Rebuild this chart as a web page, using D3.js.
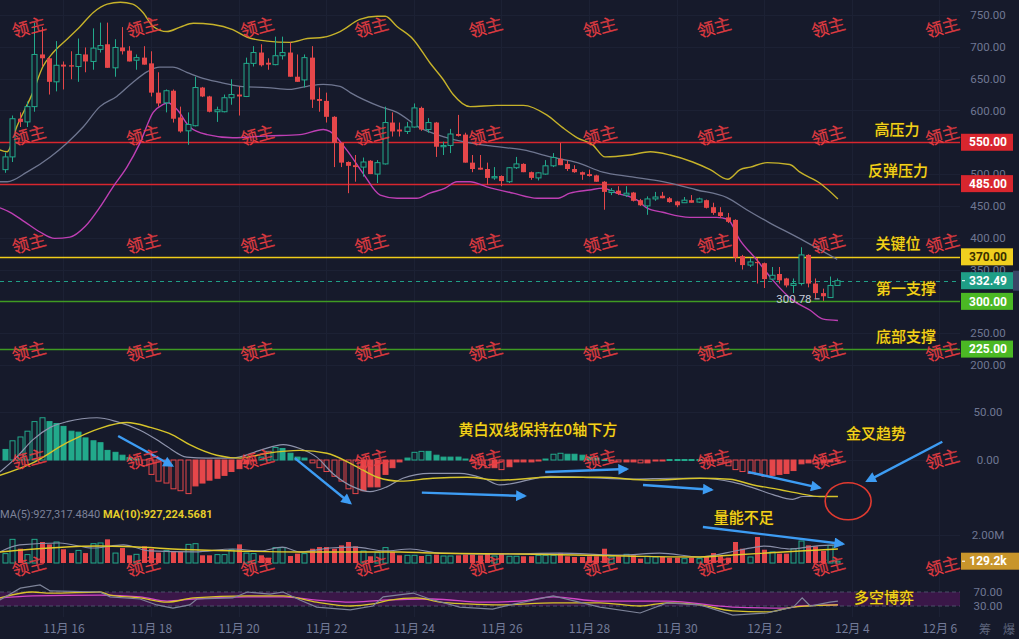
<!DOCTYPE html>
<html><head><meta charset="utf-8">
<script src="https://cdn.jsdelivr.net/npm/d3@7/dist/d3.min.js"></script>
<style>
html,body{margin:0;padding:0;background:#161a2b;overflow:hidden}
svg{display:block}
</style></head><body>
<svg id="chart" width="1019" height="639"></svg>
<script>
// ---------------- DATA ----------------
const opens  = [507,527,587,582,606,688,682,645,672,671,669,688,677,696,704,667,699,694,679,683,674,628,612,631,589,568,576,636,622,598,598,620,625,622,674,691,675,672,686,691,653,648,683,618,615,590,549,519,514,511,521,500,516,581,570,567,574,604,570,581,543,545,563,562,518,510,508,494,497,488,510,516,503,494,500,513,524,516,508,503,500,498,488,471,474,467,471,459,450,461,466,462,457,455,459,456,459,448,440,432,428,371,357,362,360,335,343,336,325,328,373,328,313,306,325];
const highs  = [534,592,597,614,738,731,683,709,677,693,713,699,729,738,738,712,731,701,688,701,693,660,633,633,606,597,653,637,623,606,625,649,638,683,701,704,682,716,716,707,688,688,701,636,628,591,550,520,530,526,522,522,606,597,581,582,611,606,588,582,551,571,593,565,530,530,518,511,498,511,527,517,504,503,522,533,549,521,514,504,507,499,489,478,481,481,472,461,465,472,472,464,458,464,467,463,460,455,448,439,429,373,368,368,361,354,354,337,336,385,374,336,320,339,336];
const lows   = [502,519,574,574,598,669,625,630,633,649,645,660,664,691,667,653,688,677,664,672,622,606,597,581,565,546,575,621,597,582,597,609,592,621,669,669,664,671,680,653,645,636,604,598,581,511,511,470,488,496,500,486,515,559,559,563,573,568,565,527,530,533,559,518,503,507,483,491,481,486,508,503,491,490,499,511,514,505,502,491,496,488,444,467,467,464,457,450,436,458,462,455,448,455,455,455,446,436,431,423,362,350,354,328,321,333,328,322,313,325,322,305,300.78,306,325];
const closes = [527,587,582,606,688,682,645,671,669,669,688,677,698,702,667,699,693,677,683,672,628,611,631,587,567,578,636,622,598,601,620,625,622,674,691,671,672,686,691,653,645,683,617,615,590,549,518,513,511,519,500,518,581,567,567,574,604,570,581,543,545,563,560,518,508,507,494,496,489,510,516,503,494,502,513,526,514,508,503,499,497,488,472,474,469,470,458,451,461,464,462,456,451,459,455,461,447,439,434,425,369,357,362,360,335,341,333,325,328,373,328,313,308,325,332.49];
// volume in millions
const volumes = [0.67,1.69,1.02,0.6,1.69,1.5,1.33,1.5,0.98,0.71, 0.9,0.71,1.38,1.43,1.69,0.71,1.07,0.55,0.62,1.19, 1.02,0.74,0.9,0.86,0.79,1.33,1.38,0.55,0.55,0.6, 0.6,0.95,1.33,0.71,0.67,0.55,0.38,1.1,1.1,0.5, 0.67,0.67,1.02,1.14,1.14,1.02,1.26,1.5,1.19,0.86, 0.48,0.74,1.1,0.79,0.55,0.55,0.55,0.5,0.55,0.6, 0.5,0.5,0.55,0.6,0.6,0.55,0.67,0.5,0.67,0.48, 0.48,0.48,0.48,0.55,0.55,0.55,0.71,0.48,0.43,0.43, 0.48,0.48,1.02,0.43,0.48,0.62,0.55,0.31,0.48,0.43, 0.43,0.38,0.38,0.31,0.38,0.31,0.43,0.71,0.48,0.38, 1.5,1.02,0.43,1.86,0.95,0.79,0.67,0.67,1.02,1.57, 1.26,1.19,0.86,1.26,0.1292];
const macdHist = [11,20,24,30,40,44,40,38,35,30, 29,23,20,18,10,8,5,2.5,1,-6, -15,-22,-24,-30,-32,-35,-27,-24,-21,-19, -16,-12,-9,-4,-1,3,9,13,12,7, 3,2,-3,-8,-12,-17,-22,-30,-35,-32, -28,-28,-15,-8,-2,2,8,9,9,5, 3,3,3,1,-1,-5,-8,-8,-10,-7, -2,-2,-2,-1,1,6,7,6,6,5, 3,2,0.5,-1,-2,-2,-2,-3,-3,-1, -1,0.5,0.5,0.5,0.5,0.5,-0.5,-1,-3,-6, -10,-12,-14,-15,-17,-16,-15,-14,-11,-4, -3,-4,-3,-2,-1];
// [candle index, value] samples
const bollUpper = [[-0.7,538],[0.3,535],[1.6,574],[3.8,628],[5.2,669],[6.6,691],[8.5,712],[10.3,732],[12.1,754],[14,767],[15.8,770],[17.5,767],[18.9,754],[20.3,732],[22.2,724],[24,731],[25.8,737],[28.5,735],[31.2,727],[33.2,715],[35.9,709],[39,707],[41.4,713],[43.6,715],[45.9,724],[48.6,743],[51,748],[52.1,748],[53.7,732],[55.9,712],[58.2,675],[60,649],[61.4,625],[63.7,606],[67.4,608],[71,608],[74.2,593],[76.4,573],[78.4,557],[80.5,546],[82.2,527],[85.6,530],[88.4,535],[91.1,530],[94.2,519],[96.6,507],[99,492],[100.7,507],[102.1,511],[104.4,518],[107.5,515],[108.9,503],[111.6,486],[114.1,461]];
const bollMid = [[-0.7,488],[0.3,488],[3,503],[6.2,527],[8.5,549],[10.7,574],[13,606],[15.3,622],[17.5,644],[19.5,661],[21.2,668],[23,668],[24.9,660],[26.7,652],[29.5,644],[32.2,638],[35.9,636],[39,633],[41.4,638],[43.6,641],[45.9,638],[47.3,628],[51.4,606],[53.7,597],[56.8,573],[60,559],[63.7,549],[67.4,543],[71,538],[74.7,527],[78.4,518],[81.9,503],[85.6,496],[90.1,488],[94.8,475],[98.9,463],[101.6,444],[104.8,423],[108.5,401],[111.2,384],[114,366]];
const bollLower = [[-0.7,447],[0.7,440],[2.7,425],[4.8,409],[6.8,399],[8.9,401],[11,418],[13,448],[14.8,480],[16.7,511],[18.5,549],[20.3,597],[21.6,609],[22.3,612],[23.6,601],[25.3,574],[27.7,562],[31.2,557],[35.9,560],[40.4,562],[43.6,570],[44.5,567],[46.8,538],[49,502],[51.4,467],[53.7,462],[56.4,462],[58.2,470],[60.3,478],[61.9,488],[63.7,488],[66,480],[69.6,470],[72.9,462],[75.6,462],[77.4,470],[80.1,475],[81.9,478],[83.8,470],[86.6,459],[87.9,447],[90.1,440],[93.8,432],[97.5,432],[99,429],[100.7,396],[103,365],[105.2,333],[107.9,302],[110.3,286],[112.1,272],[114.1,270]];
const macdDif = [[-0.7,-12.5],[1.6,3],[3.8,21],[6.2,34],[8.5,40],[12.6,44],[15.3,40],[18.5,31],[20.8,21],[22.2,14],[24.9,3],[27.7,2],[31.2,2],[34.9,10],[38.1,16],[40.4,12],[42.7,3],[44.9,-14],[47.7,-28],[50,-33],[52.3,-28],[54.5,-19],[58.2,-14],[62.3,-14],[65.5,-19],[67.8,-26],[74.7,-17],[79.2,-18],[86,-20],[91.5,-19],[95.2,-19],[99.7,-23],[102.5,-29],[105.2,-36],[107.9,-41],[109.3,-38],[111.6,-38],[114,-38]];
const macdDea = [[-0.7,-16],[3.8,-3],[8.5,18],[13,33],[16.7,39],[19.9,34],[23,26],[25.3,16],[29,5],[32.2,2],[35.9,7],[40.4,10],[44.1,7],[47.7,-5],[51,-18],[54.1,-22],[58.6,-19],[63.3,-18],[67.8,-21],[74.7,-18],[81.5,-18],[88.4,-21],[95.2,-19],[99.3,-20],[102.5,-26],[106.2,-31],[108.9,-35],[111.6,-38],[114.1,-38]];
const volMa5 = [[-0.7,0.79],[2,1.29],[7.5,1.43],[12,1.07],[16.2,1.29],[19.9,0.86],[26,0.79],[31.2,1.0],[35,0.86],[38,1.14],[40.4,0.79],[44.5,1.07],[48,1.14],[52,0.86],[55.5,1.0],[59.6,0.71],[67.8,0.64],[76,0.71],[84.2,0.57],[89.7,0.71],[95.2,0.43],[100.7,0.93],[104.1,1.21],[107.5,1.0],[111,1.21],[114.1,1.29]];
const volMa10 = [[-0.7,0.79],[13,1.21],[26.7,0.93],[40.4,0.79],[54.1,0.79],[58.6,0.71],[70.5,0.64],[85,0.5],[95.2,0.43],[99.7,0.57],[108.9,0.86],[114.1,1.0]];
const rsiFast = [[-0.7,47],[2.1,81],[4.8,90],[6.2,73],[13,70],[14.4,56],[18.5,50],[20.8,33],[23,24],[25.3,33],[26.3,50],[31.2,53],[33.2,70],[36.3,64],[38.1,70],[40.4,47],[42.7,27],[47.3,19],[50.4,30],[51.8,56],[55.9,67],[58.2,50],[62.3,27],[66.8,21],[69.2,33],[75.1,59],[81.5,27],[87,10],[90.7,39],[95.2,33],[99.7,4],[104.4,10],[108,27],[109.2,53],[110.3,30],[113,41],[114.1,44]];
const rsiMid = [[-0.7,53],[3.8,70],[6.2,67],[13,70],[14.4,61],[18.5,53],[22.2,41],[25.8,53],[33.2,59],[38.1,59],[42.7,41],[47.3,30],[50.4,36],[52.7,47],[56.4,53],[59.6,41],[63.3,36],[67.8,33],[75.1,39],[81.5,39],[87,30],[90.7,39],[95.2,33],[99.7,16],[104.4,13],[108,27],[109.9,30],[114.1,33]];
const rsiSlow = [[-0.7,53],[3.8,59],[13,61],[18.5,56],[22.2,44],[25.8,50],[33.2,56],[38.1,56],[42.7,47],[47.3,41],[51.8,47],[58.6,50],[65.5,41],[70.5,44],[75.1,56],[81.5,44],[90.7,44],[99.7,27],[107,24],[108.9,30],[114.1,33]];

const priceTicks = [750,700,650,600,550,500,450,400,350,300,250,200];
const macdTicks = [50,0];
const volTicks = [2];
const rsiTicks = [70,30];
const dateTicks = ["2024-11-16","2024-11-18","2024-11-20","2024-11-22","2024-11-24","2024-11-26","2024-11-28","2024-11-30","2024-12-02","2024-12-04","2024-12-06"];
const levels = [550,485,370,300,225];
const levelNotes = ["高压力","反弹压力","关键位","第一支撑","底部支撑"];
const currentPrice = 332.49;
const currentVolumeLabel = "129.2k";
const lowIndex = 112, lowPrice = 300.78;
const volMaLabels = ["MA(5):927,317.4840","MA(10):927,224.5681"];
const watermark = "领主";
const macdNote = {text:"黄白双线保持在0轴下方", i:73, v:33};
const crossNote = {text:"金叉趋势", i:119.3, v:29};
const volNote = {text:"量能不足", i:101.2, v:3.3};
const rsiNote = {text:"多空博弈", i:120.4, v:56};
// arrows in data coordinates [i1,v1,i2,v2]
const macdArrows = [[15.5,25,22.9,-6],[39.7,2,47.3,-45],[57.1,-34,71.2,-37.5],[74,-12.5,85.2,-9.4],[87.4,-26,96.8,-31],[101.8,-12.5,111.6,-29],[128.4,19,118.1,-22]];
const volArrows = [[95.6,2.57,114.8,1.36]];
const crossCircle = {i:115.5, v:-43};

// ---------------- SCALES ----------------
const svg = d3.select("#chart");
const PR = 960;
const x = d3.scaleLinear().domain([0,114]).range([5, 837.2]);
const t0 = new Date(2024,10,14,16);
const tx = d3.scaleTime().domain([t0, d3.timeHour.offset(t0, 4*114)]).range(x.range());
const yP = d3.scaleLinear().domain([200,750]).range([365,15]);
const yM = d3.scaleLinear().domain([0,50]).range([460,412]);
const yV = d3.scaleLinear().domain([0,2]).range([563,535]);
const yR = d3.scaleLinear().domain([30,70]).range([606,592]);
const parse = d3.timeParse("%Y-%m-%d");

const C = {bg:"#161a2b", grid:"#1c2134", up:"#22a98b", down:"#e5474a", axis:"#6f7793",
  red:"#d8262e", yellow:"#f0cc1a", green:"#3f9b22", tagGreen:"#4bb824", teal:"#1f9e86",
  bU:"#c6b22a", bM:"#6f7690", bL:"#be3fb4", note:"#f3d21c", blue:"#3d9cf3"};
const numFont = "Roboto, 'Liberation Sans', sans-serif";
const cjk = "'Noto Sans CJK SC', 'Noto Sans', sans-serif";

svg.append("rect").attr("width",1019).attr("height",639).attr("fill",C.bg);

// grid
const grid = svg.append("g").attr("stroke",C.grid).attr("stroke-width",1);
grid.selectAll("line.h").data(priceTicks).join("line").attr("class","h")
  .attr("x1",0).attr("x2",PR).attr("y1",d=>Math.round(yP(d))+0.5).attr("y2",d=>Math.round(yP(d))+0.5);
grid.selectAll("line.v").data(dateTicks).join("line").attr("class","v")
  .attr("x1",d=>Math.round(tx(parse(d)))+0.5).attr("x2",d=>Math.round(tx(parse(d)))+0.5).attr("y1",0).attr("y2",617);
grid.selectAll("line.m").data(macdTicks).join("line").attr("class","m")
  .attr("x1",0).attr("x2",PR).attr("y1",d=>Math.round(yM(d))+0.5).attr("y2",d=>Math.round(yM(d))+0.5);
grid.selectAll("line.vv").data(volTicks).join("line").attr("class","vv")
  .attr("x1",0).attr("x2",PR).attr("y1",d=>Math.round(yV(d))+0.5).attr("y2",d=>Math.round(yV(d))+0.5);

// RSI band
svg.append("rect").attr("x",0).attr("width",PR).attr("y",yR(70)).attr("height",yR(30)-yR(70)).attr("fill","#3a1748");
svg.selectAll("line.rsi").data(rsiTicks).join("line").attr("class","rsi")
  .attr("x1",0).attr("x2",PR).attr("y1",d=>yR(d)).attr("y2",d=>yR(d))
  .attr("stroke","#4a4f68").attr("stroke-dasharray","4,3");

// levels
const levelColor = [C.red,C.red,C.yellow,C.green,C.green];
svg.selectAll("line.lvl").data(levels).join("line").attr("class","lvl")
  .attr("x1",0).attr("x2",PR).attr("y1",d=>Math.round(yP(d))+0.5).attr("y2",d=>Math.round(yP(d))+0.5)
  .attr("stroke",(d,i)=>levelColor[i]).attr("stroke-width",1.3);
svg.append("line").attr("x1",0).attr("x2",PR).attr("y1",Math.round(yP(currentPrice))+0.5).attr("y2",Math.round(yP(currentPrice))+0.5)
  .attr("stroke",C.teal).attr("stroke-dasharray","4,4").attr("stroke-width",1);

// line helper
function drawLine(data, ys, color, w, curve){
  svg.append("path").datum(data)
    .attr("d", d3.line().x(d=>x(d[0])).y(d=>ys(d[1])).curve(curve||d3.curveMonotoneX))
    .attr("fill","none").attr("stroke",color).attr("stroke-width",w||1.3);
}
drawLine(bollMid, yP, C.bM, 1.3);
drawLine(bollUpper, yP, C.bU, 1.4);
drawLine(bollLower, yP, C.bL, 1.4);

// candles
const idx = d3.range(opens.length);
const cg = svg.append("g");
cg.selectAll("line.wick").data(idx).join("line")
  .attr("x1",i=>Math.round(x(i))+0.5).attr("x2",i=>Math.round(x(i))+0.5)
  .attr("y1",i=>yP(highs[i])).attr("y2",i=>yP(lows[i]))
  .attr("stroke",i=>closes[i]>=opens[i]?C.up:C.down).attr("stroke-width",1);
cg.selectAll("rect.body").data(idx).join("rect")
  .attr("x",i=>Math.round(x(i))-2)
  .attr("width",5)
  .attr("y",i=>yP(Math.max(opens[i],closes[i])))
  .attr("height",i=>Math.max(1,Math.abs(yP(opens[i])-yP(closes[i]))))
  .attr("fill",i=>closes[i]>=opens[i]?C.bg:C.down)
  .attr("stroke",i=>closes[i]>=opens[i]?C.up:"none").attr("stroke-width",1);

// low label
svg.append("text").attr("x",x(lowIndex)-11).attr("y",yP(lowPrice)+2).attr("text-anchor","end")
  .attr("fill","#c6cad8").attr("font-family",numFont).attr("font-size",11.5).text(lowPrice.toFixed(2));
svg.append("line").attr("x1",x(lowIndex)-8).attr("x2",x(lowIndex)-3).attr("y1",yP(lowPrice)-2).attr("y2",yP(lowPrice)-2)
  .attr("stroke","#c6cad8").attr("stroke-width",1);

// MACD histogram
const mg = svg.append("g");
mg.selectAll("rect").data(idx).join("rect")
  .attr("x",i=>Math.round(x(i))-2).attr("width",5)
  .attr("y",i=>Math.min(yM(0),yM(macdHist[i])))
  .attr("height",i=>Math.max(1,Math.abs(yM(macdHist[i])-yM(0))))
  .attr("fill",i=>{const grow=i>0&&Math.abs(macdHist[i])>Math.abs(macdHist[i-1]);return grow?"none":(macdHist[i]>=0?C.up:C.down);})
  .attr("stroke",i=>macdHist[i]>=0?C.up:C.down).attr("stroke-width",1);
drawLine(macdDif, yM, "#8e93ab", 1.2);
drawLine(macdDea, yM, "#d6c42a", 1.4);

// volume
const vg = svg.append("g");
vg.selectAll("rect").data(idx).join("rect")
  .attr("x",i=>Math.round(x(i))-2).attr("width",5)
  .attr("y",i=>yV(volumes[i])).attr("height",i=>yV(0)-yV(volumes[i]))
  .attr("fill",i=>closes[i]>=opens[i]?"none":C.down)
  .attr("stroke",i=>closes[i]>=opens[i]?C.up:"none").attr("stroke-width",1);
drawLine(volMa5, yV, "#8a8fa8", 1.2);
drawLine(volMa10, yV, "#e0c92a", 1.4);
svg.append("text").attr("x",0).attr("y",518).attr("font-family",numFont).attr("font-size",11)
  .attr("fill","#7d8299").text(volMaLabels[0]);
svg.append("text").attr("x",103).attr("y",518).attr("font-family",numFont).attr("font-size",11).attr("font-weight","bold")
  .attr("fill","#e6cd2a").text(volMaLabels[1]);

// RSI lines
drawLine(rsiSlow, yR, "#d247c7", 1.3);
drawLine(rsiMid, yR, "#d8c42a", 1.3);
drawLine(rsiFast, yR, "#7e8499", 1.2, d3.curveLinear);

// axes (tick labels that sit fully under a level tag are hidden, as in the reference)
function rightAxis(scale, ticks, fmt){
  const g = svg.append("g").attr("transform",`translate(${PR},0)`)
    .call(d3.axisRight(scale).tickValues(ticks).tickSize(0).tickPadding(28).tickFormat(fmt));
  g.select(".domain").remove();
  g.selectAll("text").attr("text-anchor","middle").attr("fill",C.axis)
    .attr("font-family",numFont).attr("font-size",11.5);
}
rightAxis(yP, priceTicks.filter(t=>!levels.includes(t)), d3.format(".2f"));
rightAxis(yM, macdTicks, d3.format(".2f"));
rightAxis(yV, volTicks, d=>d3.format(".2f")(d)+"M");
rightAxis(yR, rsiTicks, d3.format(".2f"));

const gx = svg.append("g").attr("transform","translate(0,620)")
  .call(d3.axisBottom(tx).tickValues(dateTicks.map(parse)).tickSize(0).tickPadding(4).tickFormat(d3.timeFormat("%-m月 %-d")));
gx.select(".domain").remove();
gx.selectAll("text").attr("fill","#737b98").attr("font-family",cjk).attr("font-size",12);
svg.append("text").attr("x",985).attr("y",634).attr("text-anchor","middle").attr("fill","#5d647c").attr("font-family",cjk).attr("font-size",12).text("筹");
svg.append("text").attr("x",1009).attr("y",634).attr("text-anchor","middle").attr("fill","#5d647c").attr("font-family",cjk).attr("font-size",12).text("爆");

// tags
function tag(y, label, bg, fg, w){
  svg.append("rect").attr("x",961).attr("y",y-8.5).attr("width",w||52).attr("height",17).attr("fill",bg);
  svg.append("text").attr("x",988).attr("y",y+4.2).attr("text-anchor","middle").attr("fill",fg)
    .attr("font-family",numFont).attr("font-size",12).attr("font-weight","bold").text(label);
}
const tagBg = [C.red,C.red,"#f0cf1f",C.tagGreen,C.tagGreen];
const tagFg = ["#fff","#fff","#3a3000","#fff","#fff"];
levels.forEach((l,k)=>tag(yP(l), d3.format(".2f")(l), tagBg[k], tagFg[k]));
tag(yP(currentPrice), d3.format(".2f")(currentPrice), C.teal, "#fff");
svg.append("line").attr("x1",962).attr("x2",965).attr("y1",yP(currentPrice)).attr("y2",yP(currentPrice)).attr("stroke","#fff");
svg.append("rect").attr("x",1013).attr("y",yP(currentPrice)-10).attr("width",6).attr("height",20).attr("fill","#3b4566");
tag(yV(0.1292), currentVolumeLabel, "#c8952b", "#fff", 58);
svg.append("line").attr("x1",962).attr("x2",965).attr("y1",yV(0.1292)).attr("y2",yV(0.1292)).attr("stroke","#fff");

// annotations
function note(txt, px, py, anchor){
  svg.append("text").attr("x",px).attr("y",py).attr("text-anchor",anchor||"middle").attr("dominant-baseline","central")
    .attr("fill",C.note).attr("stroke","#4a3c00").attr("stroke-width",0.6).attr("paint-order","stroke")
    .attr("font-family",cjk).attr("font-size",15).attr("font-weight","500").text(txt);
}
const noteX = [897,898,898,906,906];
levels.forEach((l,k)=>note(levelNotes[k], noteX[k], yP(l)-14));
note(macdNote.text, x(macdNote.i), yM(macdNote.v));
note(crossNote.text, x(crossNote.i), yM(crossNote.v));
note(volNote.text, x(volNote.i), yV(volNote.v));
note(rsiNote.text, x(rsiNote.i), yR(rsiNote.v));

// arrows
const defs = svg.append("defs");
defs.append("marker").attr("id","ah").attr("viewBox","0 0 10 10").attr("refX",8).attr("refY",5)
  .attr("markerWidth",5).attr("markerHeight",4.5).attr("orient","auto").attr("markerUnits","strokeWidth")
  .append("path").attr("d","M0,0 L10,5 L0,10 Z").attr("fill",C.blue);
function arrows(list, ys){
  svg.selectAll(null).data(list).join("line")
    .attr("x1",d=>x(d[0])).attr("y1",d=>ys(d[1])).attr("x2",d=>x(d[2])).attr("y2",d=>ys(d[3]))
    .attr("stroke",C.blue).attr("stroke-width",2.4).attr("marker-end","url(#ah)");
}
arrows(macdArrows, yM);
arrows(volArrows, yV);
svg.append("ellipse").attr("cx",x(crossCircle.i)).attr("cy",yM(crossCircle.v)).attr("rx",23).attr("ry",18.5)
  .attr("fill","none").attr("stroke","#e03a30").attr("stroke-width",1.6);

// watermark
const wmCols = d3.range(9).map(k=>28.5+114.2*k);
const wmRows = [26,134,242,350,458,565];
const wm = svg.append("g");
wmRows.forEach(ry=>wmCols.forEach(cx=>{
  wm.append("text").attr("transform",`translate(${cx},${ry}) rotate(-15)`).attr("text-anchor","middle").attr("dominant-baseline","central")
    .attr("font-family",cjk).attr("font-size",17).attr("font-weight","300")
    .attr("fill","none").attr("stroke","#ea3d42").attr("stroke-width",0.6).text(watermark);
}));
</script></body></html>
